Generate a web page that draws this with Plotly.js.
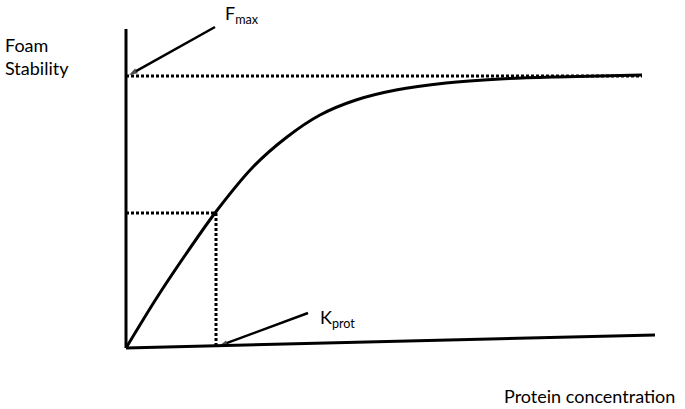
<!DOCTYPE html>
<html>
<head>
<meta charset="utf-8">
<script src="https://cdn.plot.ly/plotly-3.0.1.min.js"></script>
<style>html,body{margin:0;padding:0;background:#fff;}#chart{width:685px;height:409px;}</style>
</head>
<body>
<div id="chart"></div>
<script>
// Schematic: foam stability vs protein concentration (arbitrary units, origin at 0,0)
const curveX = [0, 30, 60, 89, 127, 161, 194, 230, 270, 320, 374, 430, 516];
const curveY = [0, 49, 94, 135, 181, 211, 233, 248, 258, 265, 269, 271, 273];

const yAxisX = [0, 0];
const yAxisY = [0, 319];
const xAxisX = [0, 529];
const xAxisY = [0, 13];

const fmaxLineX = [0, 516];
const fmaxLineY = [272, 272];

const kprotX = [0, 90, 90];
const kprotY = [135, 135, 0];

const fmaxArrowX = [89, 3];
const fmaxArrowY = [321, 273];
const kprotArrowX = [182, 93];
const kprotArrowY = [35, 2];

const fontFam = 'Lato, "Open Sans", sans-serif';
const black = '#000000';

function arrowTrace(xs, ys) {
  return {x: xs, y: ys, mode: 'lines+markers', line: {color: black, width: 2.5},
    marker: {symbol: 'arrow', size: [0, 9], color: black, angleref: 'previous', line: {width: 0}},
    hoverinfo: 'skip'};
}

const traces = [
  {x: yAxisX, y: yAxisY, mode: 'lines', line: {color: black, width: 3}, hoverinfo: 'skip'},
  {x: xAxisX, y: xAxisY, mode: 'lines', line: {color: black, width: 3}, hoverinfo: 'skip'},
  {x: fmaxLineX, y: fmaxLineY, mode: 'lines', line: {color: black, width: 3, dash: '3px,2px'}, hoverinfo: 'skip'},
  {x: kprotX, y: kprotY, mode: 'lines', line: {color: black, width: 3, dash: '3px,2px'}, hoverinfo: 'skip'},
  {x: curveX, y: curveY, mode: 'lines', line: {color: black, width: 3, shape: 'spline', smoothing: 0.8}, hoverinfo: 'skip'},
  arrowTrace(fmaxArrowX, fmaxArrowY),
  arrowTrace(kprotArrowX, kprotArrowY)
];

const layout = {
  width: 685, height: 409,
  margin: {l: 0, r: 0, t: 0, b: 0},
  paper_bgcolor: '#ffffff', plot_bgcolor: '#ffffff',
  showlegend: false,
  xaxis: {range: [-126, 559], visible: false, fixedrange: true},
  yaxis: {range: [-61, 348], visible: false, fixedrange: true},
  font: {family: fontFam, color: black, size: 18},
  annotations: [
    {x: 97, y: 334, xref: 'x', yref: 'y', xanchor: 'left', yanchor: 'middle', showarrow: false,
     text: 'F<sub>max</sub>', font: {size: 18}},
    {x: 192, y: 30, xref: 'x', yref: 'y', xanchor: 'left', yanchor: 'middle', showarrow: false,
     text: 'K<sub>prot</sub>', font: {size: 18}},
    {x: -123, y: 316, xref: 'x', yref: 'y', xanchor: 'left', yanchor: 'top', align: 'left', showarrow: false,
     text: 'Foam<br>Stability', font: {size: 18}},
    {x: 376, y: -48, xref: 'x', yref: 'y', xanchor: 'left', yanchor: 'middle', showarrow: false,
     text: 'Protein concentration', font: {size: 18}}
  ]
};

Plotly.newPlot('chart', traces, layout, {staticPlot: true, displayModeBar: false});
</script>
</body>
</html>
